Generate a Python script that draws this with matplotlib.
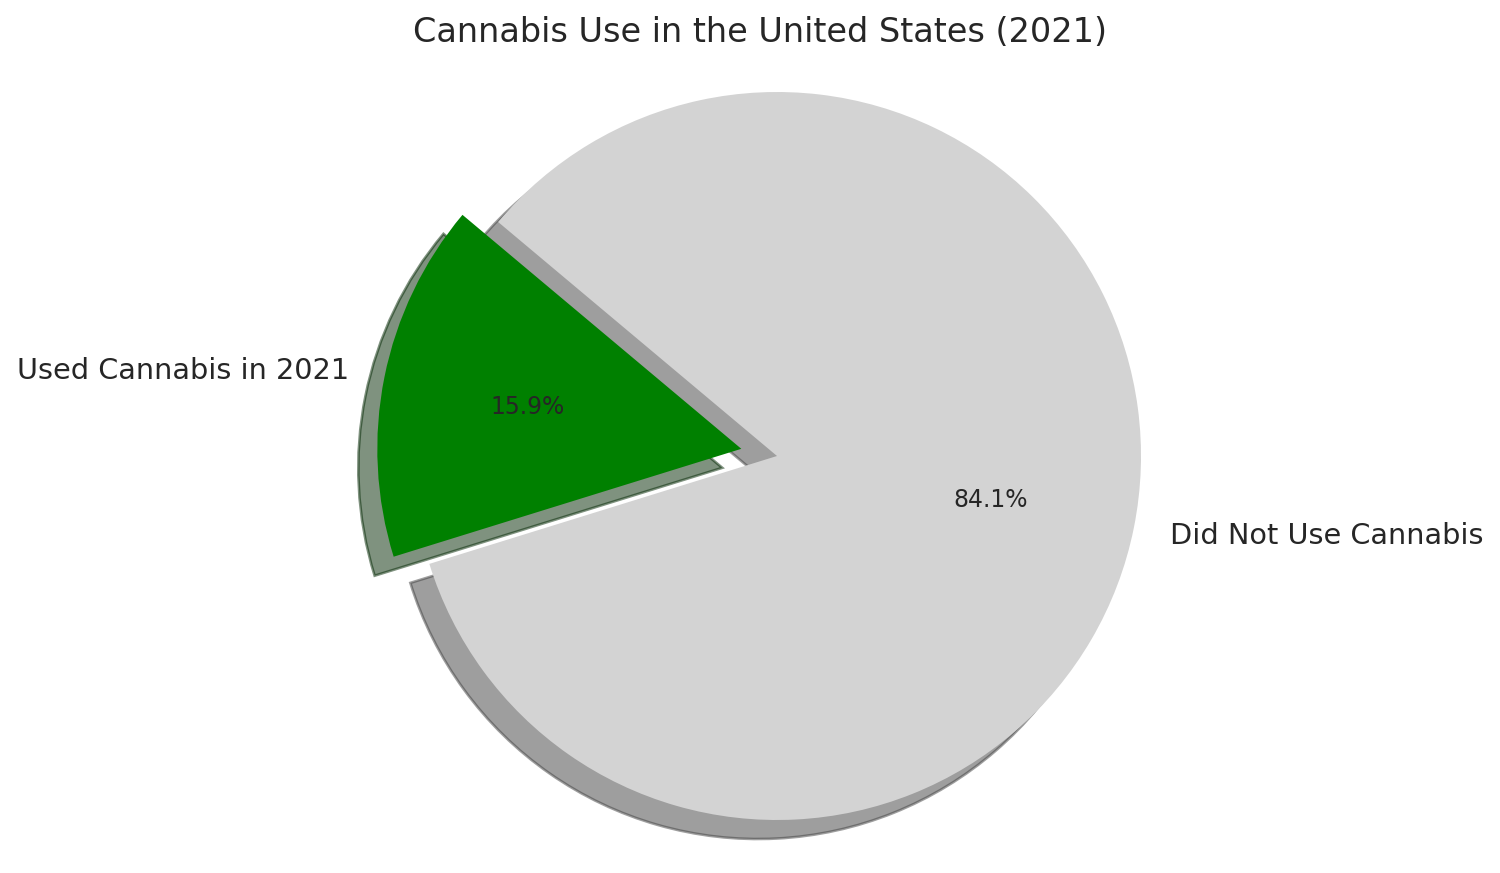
import matplotlib
matplotlib.use("Agg")
import matplotlib.pyplot as plt
import seaborn as sns

sns.set_theme(style="white")
plt.rcParams['patch.force_edgecolor'] = False

labels = ['Used Cannabis in 2021', 'Did Not Use Cannabis']
sizes = [15.9, 84.1]
colors = ['green', 'lightgrey']
explode = (0.1, 0)

W, H, DPI = 1500, 874, 188
fig = plt.figure(figsize=(W / DPI, H / DPI), dpi=DPI)

# axes placement in pixels (from bottom / left), pie centre and radius in pixels
ax_left, ax_bottom, ax_top = 20, 20, 816
cx, cy, r = 777, 417, 364
ax = fig.add_axes([ax_left / W, ax_bottom / H, (W - ax_left) / W, (ax_top - ax_bottom) / H])

wedges, texts, autotexts = ax.pie(sizes, explode=explode, labels=labels, colors=colors,
                                  autopct='%1.1f%%', shadow=True, startangle=140)
for t in texts:
    t.set_fontsize(11)
for t in autotexts:
    t.set_fontsize(9)

ax.set_xlim(-(cx - ax_left) / r, (W - cx) / r)
ax.set_ylim(-(cy - ax_bottom) / r, (ax_top - cy) / r)
ax.set_title('Cannabis Use in the United States (2021)', fontsize=12.85)

plt.savefig('out.png')
